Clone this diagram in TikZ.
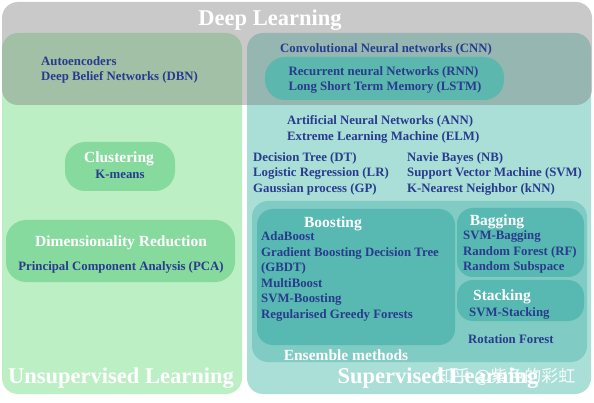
\documentclass[tikz,border=0pt]{standalone}
\usepackage{fontspec}
\setmainfont{Liberation Serif}
\newfontfamily\cjkfont{Noto Sans CJK SC}
\usepackage{tikz}
\usetikzlibrary{positioning}

\definecolor{dlgray}{HTML}{7A7A7A}
\definecolor{unsupgreen}{HTML}{BCEFC4}
\definecolor{supteal}{HTML}{AADFD8}
\definecolor{unsupbox}{HTML}{86DA9E}
\definecolor{rnnbox}{HTML}{5CB7AE}
\definecolor{ensbox}{HTML}{80CBC3}
\definecolor{methbox}{HTML}{57B9B2}
\definecolor{itemblue}{HTML}{293B8C}

\begin{document}
\begin{tikzpicture}[x=1pt, y=-1pt,
    area/.style={rounded corners=16pt},
    item/.style={text=itemblue, font=\bfseries\fontsize{12.8}{15.5}\selectfont, align=left, inner sep=0pt, yshift=-2pt},
    bigtitle/.style={text=white, font=\bfseries\fontsize{22.5}{24}\selectfont, inner sep=0pt, yshift=-2pt},
    subtitle/.style={text=white, font=\bfseries\fontsize{15.5}{18}\selectfont, inner sep=0pt, yshift=-2.5pt}]

    \useasboundingbox (0,0) rectangle (594,403);
    \fill[white] (0,0) rectangle (594,403);

    % Unsupervised / supervised areas
    \fill[unsupgreen, area] (2,33) rectangle (242,394);
    \fill[supteal, area] (247,33) rectangle (591,394);

    % Deep learning band, laid over both areas
    \fill[dlgray, fill opacity=0.4, area] (2,2) rectangle (592,105);
    \node[bigtitle] (dltitle) at (270,18) {Deep Learning};

    % Unsupervised side
    \node[item, anchor=west] (deepunsup) at (41,68) {Autoencoders\\Deep Belief Networks (DBN)};

    \fill[unsupbox, rounded corners=20pt] (65,142) rectangle (175,191);
    \node[subtitle] (clustering) at (119,156) {Clustering};
    \node[item] (kmeans) at (120,172) {K-means};

    \fill[unsupbox, rounded corners=20pt] (6,220) rectangle (235,282);
    \node[subtitle] (dimred) at (121,240) {Dimensionality Reduction};
    \node[item] (pca) at (121,265) {Principal Component Analysis (PCA)};

    \node[bigtitle] (unsuptitle) at (121,376) {Unsupervised Learning};

    % Supervised side, deep part
    \node[item] (cnn) at (386,47) {Convolutional Neural networks (CNN)};
    \fill[rnnbox, rounded corners=20pt] (265,57) rectangle (504,100);
    \node[item] (rnn) at (385,78) {Recurrent neural Networks (RNN)\\Long Short Term Memory (LSTM)};

    % Supervised side, shallow part
    \node[item, anchor=west] (ann) at (287,127.5) {Artificial Neural Networks (ANN)\\Extreme Learning Machine (ELM)};
    \node[item, anchor=west] (trees) at (253,171.5) {Decision Tree (DT)\\Logistic Regression (LR)\\Gaussian process (GP)};
    \node[item, anchor=west] (bayes) at (407,171.5) {Navie Bayes (NB)\\Support Vector Machine (SVM)\\K-Nearest Neighbor (kNN)};

    % Ensemble methods
    \fill[ensbox, area] (252,201) rectangle (587,362);

    \fill[methbox, area] (257,209) rectangle (455,345);
    \node[subtitle] (boosting) at (333,221) {Boosting};
    \node[item, anchor=west] (boostlist) at (261,274.5) {AdaBoost\\Gradient Boosting Decision Tree\\(GBDT)\\MultiBoost\\SVM-Boosting\\Regularised Greedy Forests};

    \fill[methbox, area] (457,208) rectangle (584,277);
    \node[subtitle] (bagging) at (497,219) {Bagging};
    \node[item, anchor=west] (baglist) at (463,250) {SVM-Bagging\\Random Forest (RF)\\Random Subspace};

    \fill[methbox, area] (457,280) rectangle (584,321);
    \node[subtitle] (stacking) at (502,294) {Stacking};
    \node[item, anchor=west] (svmstack) at (469,311) {SVM-Stacking};

    \node[item, anchor=west] (rotation) at (468,337) {Rotation Forest};
    \node[subtitle] (ensemble) at (346,353) {Ensemble methods};

    \node[bigtitle] (suptitle) at (438,376) {Supervised Learning};

    % watermark
    \node[text=white, opacity=0.9, font=\cjkfont\fontsize{17}{18}\selectfont, inner sep=0pt] (mark) at (506,377) {知乎 @紫色的彩虹};

\end{tikzpicture}
\end{document}
